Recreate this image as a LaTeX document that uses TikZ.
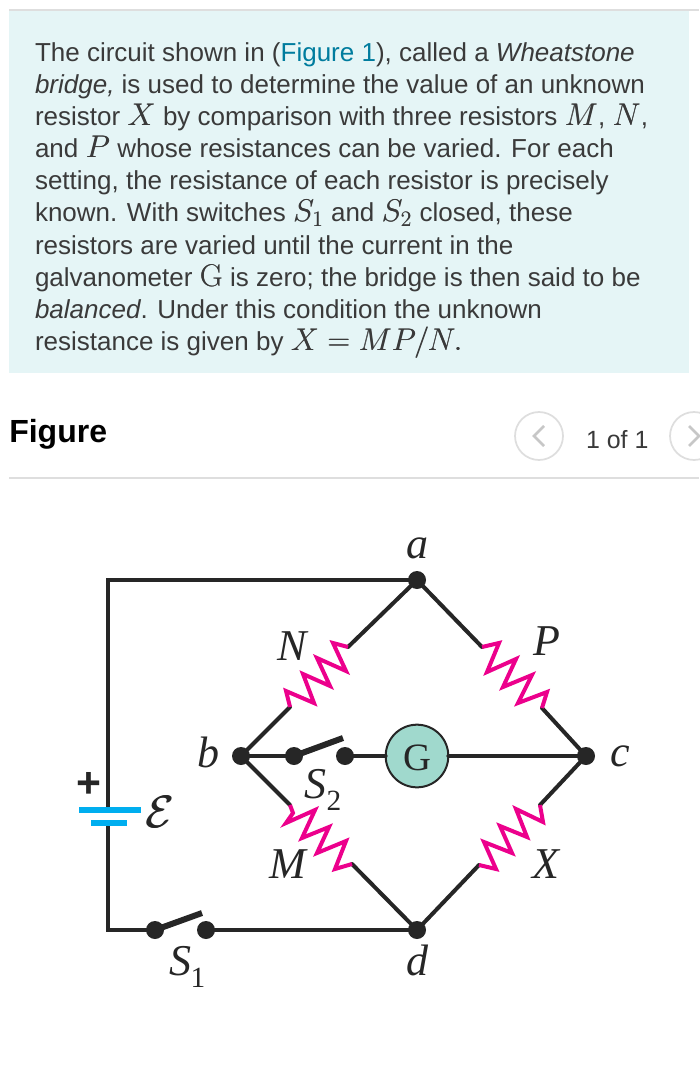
\RequirePackage{fix-cm}
\documentclass[tikz,border=0pt]{standalone}
\usepackage[no-math]{fontspec}
\setmainfont{Liberation Sans}
\newfontfamily\labfont{Liberation Serif}
\definecolor{txt}{HTML}{3A3A3A}
\definecolor{linkc}{HTML}{007C9E}
\definecolor{panel}{HTML}{E5F5F6}
\definecolor{rulec}{HTML}{DEDEDE}
\definecolor{wire}{HTML}{262626}
\definecolor{res}{HTML}{EC008C}
\definecolor{bat}{HTML}{00AEEF}
\definecolor{gfill}{HTML}{A0D9CD}
\newcommand{\mth}[1]{{\fontsize{23.5}{23.5}\selectfont\rlap{$#1$}\kern0.3pt$#1$}}
\newcommand{\mG}{{\fontsize{23.5}{23.5}\selectfont\rlap{$\mathrm{G}$}\kern0.3pt$\mathrm{G}$}}
\tikzset{
  x=0.75pt,y=-0.75pt,
  line/.style={anchor=base west,inner sep=0pt,outer sep=0pt,text=txt,font=\fontsize{19.5}{23}\selectfont},
  lab/.style={anchor=base,inner sep=0pt,outer sep=0pt,text=wire,font=\fontsize{33}{36}\selectfont\labfont\itshape},
  sub/.style={anchor=base,inner sep=0pt,outer sep=0pt,text=wire,font=\fontsize{22}{24}\selectfont\labfont},
  dot/.style={circle,fill=wire,minimum size=13.5pt,inner sep=0pt,outer sep=0pt},
  wiring/.style={draw=wire,line width=3pt,line cap=round,line join=miter},
  blade/.style={draw=wire,line width=4.5pt},
  zig/.style={draw=res,line width=3pt,line join=miter},
  plate/.style={draw=bat,line width=3.8pt},
  navbtn/.style={circle,draw=rulec,line width=1.3pt,fill=white,minimum size=36pt,inner sep=0pt},
  chev/.style={draw=black!22,line width=1.9pt}
}
\begin{document}
\begin{tikzpicture}
\useasboundingbox (0,0) rectangle (699,1073);
% panel and rules
\fill[panel] (9,11) rectangle (689,373);
\draw[rulec,line width=1.2pt] (9,10) -- (699,10);
\draw[rulec,line width=1.5pt] (9,478) -- (699,478);
% paragraph
\node[line] (l1) at (35,62) {The circuit shown in ({\color{linkc}Figure 1}), called a \textit{Wheatstone}};
\node[line] (l2) at (35,94) {\textit{bridge,} is used to determine the value of an unknown};
\node[line] (l3) at (35,126) {resistor \mth{X} by comparison with three resistors \mth{M}, \mth{N},};
\node[line] (l4) at (35,158) {and \mth{P} whose resistances can be varied. For each};
\node[line] (l5) at (35,190) {setting, the resistance of each resistor is precisely};
\node[line] (l6) at (35,222) {known. With switches \mth{S_1} and \mth{S_2} closed, these};
\node[line] (l7) at (35,254) {resistors are varied until the current in the};
\node[line] (l8) at (35,286) {galvanometer \mG{} is zero; the bridge is then said to be};
\node[line] (l9) at (35,318) {\textit{balanced}. Under this condition the unknown};
\node[line] (l10) at (35,350) {resistance is given by \mth{X=MP/N.}};
% header
\node[anchor=base west,inner sep=0pt,font=\fontsize{24}{26}\selectfont\bfseries] (fig) at (9,442) {Figure};
\node[navbtn] (prev) at (539,436) {};
\draw[chev] (544,426) -- (534,436) -- (544,446);
\node[line,font=\fontsize{18.7}{22}\selectfont] (page) at (586,448) {1 of 1};
\node[navbtn] (next) at (694,436) {};
\draw[chev] (689,426) -- (699,436) -- (689,446);
% nodes
\node[dot] (a) at (417,580) {};
\node[dot] (b) at (241,756) {};
\node[dot] (c) at (586,756) {};
\node[dot] (d) at (417,930) {};
\node[dot] (s1a) at (155,930) {};
\node[dot] (s1b) at (206,930) {};
\node[dot] (s2a) at (294,756) {};
\node[dot] (s2b) at (345,756) {};
\node[circle,draw=wire,line width=1.5pt,fill=gfill,minimum size=47pt,inner sep=0pt,outer sep=0pt] (g) at (417,756) {};
\coordinate (tl) at (108,580);
\coordinate (bl) at (108,930);
\coordinate (pa) at (108,810);
\coordinate (pb) at (108,823);
\coordinate (s1t) at (202,913);
\coordinate (s2t) at (343,738);
\coordinate (Ns) at (290,707); \coordinate (Ne) at (348,647);
\coordinate (Ms) at (290,805); \coordinate (Me) at (352,864);
\coordinate (Ps) at (482,647); \coordinate (Pe) at (542,708);
\coordinate (Xs) at (540,805); \coordinate (Xe) at (479,865);
% wires
\draw[wiring] (a.center) -- (tl) -- (pa);
\draw[wiring] (pb) -- (bl) -- (s1a.center);
\draw[wiring] (s1b.center) -- (d.center);
\draw[wiring] (b.center) -- (s2a.center);
\draw[wiring] (s2b.center) -- (g);
\draw[wiring] (g) -- (c.center);
\draw[wiring] (b.center) -- (Ns);
\draw[wiring] (Ne) -- (a.center);
\draw[wiring] (b.center) -- (Ms);
\draw[wiring] (Me) -- (d.center);
\draw[wiring] (a.center) -- (Ps);
\draw[wiring] (Pe) -- (c.center);
\draw[wiring] (c.center) -- (Xs);
\draw[wiring] (Xe) -- (d.center);
\draw[blade] (s1a.center) -- (s1t);
\draw[blade] (s2a.center) -- (s2t);
% resistors
\draw[zig] (Ns) -- (286,691) -- (314,703) -- (303,674) -- (330,686) -- (317,658) -- (346,671) -- (333,643) -- (Ne);
\draw[zig] (Ms) -- (293,813) -- (286,823) -- (315,810) -- (302,838) -- (329,827) -- (317,853) -- (346,841) -- (335,869) -- (Me);
\draw[zig] (Ps) -- (499,643) -- (487,672) -- (516,659) -- (503,687) -- (532,675) -- (518,703) -- (547,692) -- (Pe);
\draw[zig] (Xs) -- (543,822) -- (516,809) -- (527,837) -- (500,826) -- (512,853) -- (484,842) -- (496,869) -- (Xe);
% battery
\draw[plate] (79,810) -- (141,810);
\draw[plate] (91,823) -- (127,823);
\node[inner sep=0pt,text=wire,font=\fontsize{32}{32}\selectfont\bfseries] (plus) at (89,785) {+};
\node[inner sep=0pt,text=wire,font=\fontsize{34}{34}\selectfont] (emf) at (160,812) {\rlap{$\mathcal{E}$}\kern0.4pt$\mathcal{E}$};
% labels
\node[lab] (la) at (417,558) {a};
\node[lab] (lb) at (208,767) {b};
\node[lab] (lc) at (620,766) {c};
\node[lab] (ld) at (417,975) {d};
\node[lab] (lN) at (292,660) {N};
\node[lab] (lP) at (547,655) {P};
\node[lab] (lM) at (288,878) {M};
\node[lab] (lX) at (546,878) {X};
\node[lab] (lS1) at (180,975) {S};
\node[sub] (lS1s) at (198,987) {1};
\node[lab] (lS2) at (315,798) {S};
\node[sub] (lS2s) at (334,810) {2};
\node[anchor=base,inner sep=0pt,text=wire,font=\fontsize{29}{30}\selectfont\labfont] (lG) at (417,770) {G};
\end{tikzpicture}
\end{document}
